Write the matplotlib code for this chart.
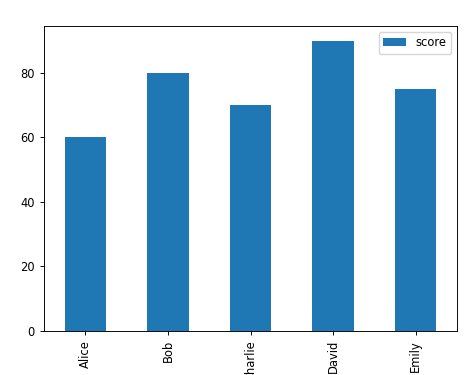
import matplotlib
matplotlib.use("Agg")
import matplotlib.pyplot as plt

names = ["Alice", "Bob", "Charlie", "David", "Emily"]
scores = [60, 80, 70, 90, 75]

W, H = 474, 375
fig = plt.figure(figsize=(W/100, H/100), dpi=100)
ax = fig.add_axes([44/W, 1 - 331/H, (457-44)/W, (331-26)/H])
plt.rcParams['font.size'] = 8.3
x = list(range(len(names)))
ax.bar(x, scores, width=0.5, color="#1f77b4", label="score")
ax.set_xlim(-0.5, len(names) - 0.5)
ax.set_ylim(0, max(scores) * 1.05)
ax.set_xticks(x)
ax.set_xticklabels(names, rotation=90, fontsize=8.3)
ax.tick_params(axis='both', labelsize=8.3, length=3, width=0.67)
for s in ax.spines.values():
    s.set_linewidth(0.67)
ax.legend(loc="upper right", fontsize=8.3)
fig.savefig("out.png", dpi=100)
